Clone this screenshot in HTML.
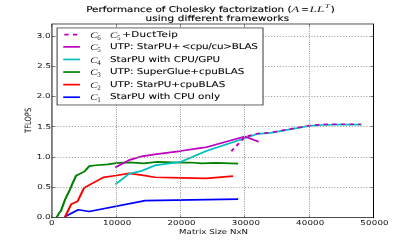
<!DOCTYPE html>
<html><head><meta charset="utf-8"><title>Performance of Cholesky factorization</title>
<style>
html,body{margin:0;padding:0;background:#fff;}
svg{display:block;}
text{font-family:"DejaVu Sans","Liberation Sans",sans-serif;fill:#000;stroke:#000;stroke-width:0.3px;text-rendering:geometricPrecision;}
.m{font-family:"Liberation Serif","DejaVu Serif",serif;font-style:italic;}
.eq{font-family:"DejaVu Sans","Liberation Sans",sans-serif;}
.r{font-family:"Liberation Serif","DejaVu Serif",serif;font-style:normal;}
.m,.r{fill:#222;stroke:none;}
.t{font-size:16.67px;}
.lg text{stroke-width:0.15px;}
.m,.r{fill:#222;stroke:none !important;}
.t text{stroke-width:0.1px;fill:#1a1a1a;stroke:#1a1a1a;}
.l{font-size:20px;}
</style></head><body>
<svg width="415" height="242" viewBox="0 0 800 600" preserveAspectRatio="none">
<rect x="0" y="0" width="800" height="600" fill="#fff"/>

<defs><clipPath id="ax"><rect x="100" y="59.5" width="620" height="480"/></clipPath></defs>
<g fill="none" stroke-width="4.17" stroke-linecap="square" stroke-linejoin="round" clip-path="url(#ax)">
<polyline stroke="#0000ff" points="126.0,536.5 150.8,520.0 171.9,524.5 279.8,497.5 457.1,493.8"/>
<polyline stroke="#ff0000" points="124.8,539.5 137.2,506.5 149.6,499.0 162.0,466.0 174.4,457.0 199.2,439.8 224.0,435.2 248.8,429.9 273.6,434.1 298.4,439.4 348.0,440.9 397.6,442.4 447.2,436.8"/>
<polyline stroke="#008000" points="108.9,539.5 114.6,526.8 117.4,523.0 125.3,495.4 134.7,470.5 139.7,455.2 146.6,435.6 163.2,424.8 171.9,412.0 185.6,409.8 207.9,407.6 224.0,404.5 248.8,402.7 277.3,405.1 303.4,401.5 348.0,403.4 366.6,402.9 388.9,405.1 416.2,404.0 457.1,405.6"/>
<polyline stroke="#00bfbf" points="224.0,455.8 248.8,430.8 273.6,423.6 298.4,410.2 348.0,401.5 397.6,374.5 472.0,342.7 496.8,331.8 521.6,329.5 596.0,312.2 620.8,310.0 645.6,309.2 695.2,309.2"/>
<polyline stroke="#bf00bf" points="224.0,414.2 248.8,397.0 273.6,387.6 298.4,382.8 348.0,374.5 385.2,367.3 397.6,365.0 472.0,338.6 496.8,350.5"/>
<polyline stroke="#bf00bf" stroke-linecap="butt" stroke-dasharray="8.33,8.33" points="446.0,375.2 472.0,339.2 496.8,331.0 521.6,328.8 596.0,311.5 620.8,308.5 645.6,308.1 695.2,308.1"/>
</g>
<g stroke="#959595" fill="none">
<path d="M224.58 540V60" stroke-width="1.928" stroke-dasharray="2.48,3.08"/>
<path d="M347.95 540V60" stroke-width="1.928" stroke-dasharray="2.48,3.08"/>
<path d="M471.33 540V60" stroke-width="1.928" stroke-dasharray="2.48,3.08"/>
<path d="M596.63 540V60" stroke-width="1.928" stroke-dasharray="2.48,3.08"/>
<path d="M100 464.88H720" stroke-width="2.479" stroke-dasharray="1.93,3.63"/>
<path d="M100 390.50H720" stroke-width="2.479" stroke-dasharray="1.93,3.63"/>
<path d="M100 313.64H720" stroke-width="2.479" stroke-dasharray="1.93,3.63"/>
<path d="M100 239.26H720" stroke-width="2.479" stroke-dasharray="1.93,3.63"/>
<path d="M100 164.88H720" stroke-width="2.479" stroke-dasharray="1.93,3.63"/>
<path d="M100 90.50H720" stroke-width="2.479" stroke-dasharray="1.93,3.63"/>
</g>
<g stroke="#777" fill="none">
<path d="M99.28 540v-5.6M99.28 60v5.6" stroke-width="1.928"/>
<path d="M224.58 540v-5.6M224.58 60v5.6" stroke-width="1.928"/>
<path d="M347.95 540v-5.6M347.95 60v5.6" stroke-width="1.928"/>
<path d="M471.33 540v-5.6M471.33 60v5.6" stroke-width="1.928"/>
<path d="M596.63 540v-5.6M596.63 60v5.6" stroke-width="1.928"/>
<path d="M720.00 540v-5.6M720.00 60v5.6" stroke-width="1.928"/>
<path d="M100 539.26h5.6M720 539.26h-5.6" stroke-width="2.479"/>
<path d="M100 464.88h5.6M720 464.88h-5.6" stroke-width="2.479"/>
<path d="M100 390.50h5.6M720 390.50h-5.6" stroke-width="2.479"/>
<path d="M100 313.64h5.6M720 313.64h-5.6" stroke-width="2.479"/>
<path d="M100 239.26h5.6M720 239.26h-5.6" stroke-width="2.479"/>
<path d="M100 164.88h5.6M720 164.88h-5.6" stroke-width="2.479"/>
<path d="M100 90.50h5.6M720 90.50h-5.6" stroke-width="2.479"/>
</g>
<g stroke="#000" fill="none">
<path d="M100 59.5H720" stroke-width="1.7" stroke="#222"/>
<path d="M100 539.26H720" stroke-width="2.11" stroke="#4a4a4a"/>
<path d="M720.00 59V541" stroke-width="1.93"/>
<path d="M100.14 59V541" stroke-width="2.12" stroke="#222"/>
</g>
<g class="t">
<text x="100.0" y="557.9" text-anchor="middle">0</text>
<text x="198.7" y="557.9" textLength="54.4" lengthAdjust="spacing">10000</text>
<text x="322.7" y="557.9" textLength="54.4" lengthAdjust="spacing">20000</text>
<text x="446.7" y="557.9" textLength="54.4" lengthAdjust="spacing">30000</text>
<text x="570.7" y="557.9" textLength="54.4" lengthAdjust="spacing">40000</text>
<text x="694.7" y="557.9" textLength="54.4" lengthAdjust="spacing">50000</text>
<text x="97.5" y="544.0" text-anchor="end">0.0</text>
<text x="98.5" y="469.0" text-anchor="end">0.5</text>
<text x="97.5" y="394.0" text-anchor="end">1.0</text>
<text x="98.5" y="319.0" text-anchor="end">1.5</text>
<text x="97.5" y="244.0" text-anchor="end">2.0</text>
<text x="98.5" y="169.0" text-anchor="end">2.5</text>
<text x="97.5" y="94.0" text-anchor="end">3.0</text>
<text x="345.2" y="580.2" textLength="133" lengthAdjust="spacing">Matrix Size NxN</text>
<text transform="translate(59.4,298.5) rotate(-90)" text-anchor="middle">TFLOPS</text>
</g>
<g class="l">
<text x="166.2" y="29.8" textLength="395.8" lengthAdjust="spacing">Performance of Cholesky factorization (</text>
<text class="m" x="561.7" y="29.8" font-size="21.0" textLength="15.5" lengthAdjust="spacingAndGlyphs">A</text>
<text class="eq" x="580.8" y="29.8" font-size="20.0" textLength="14.5" lengthAdjust="spacingAndGlyphs">=</text>
<text class="m" x="596.7" y="29.8" font-size="21.0" textLength="14.3" lengthAdjust="spacingAndGlyphs">L</text>
<text class="m" x="610.7" y="29.8" font-size="21.0" textLength="14.8" lengthAdjust="spacingAndGlyphs">L</text>
<text class="m" x="626.2" y="20.2" font-size="14.7" textLength="9.7" lengthAdjust="spacingAndGlyphs">T</text>
<text x="637.7" y="29.8">)</text>
<text x="280.3" y="52.0" textLength="277" lengthAdjust="spacing">using different frameworks</text>
</g>
<rect x="110.0" y="69.3" width="397.0" height="191.0" fill="#fff" stroke="#000" stroke-width="1.5"/>
<g class="l lg">
<path d="M124 85.9H152" stroke="#bf00bf" stroke-width="4.17" stroke-dasharray="8.33,8.33" fill="none"/>
<text class="m" x="174.0" y="94.2" font-size="21.0" textLength="13.8" lengthAdjust="spacingAndGlyphs">C</text><text class="r" x="187.6" y="99.2" font-size="17.5" textLength="6.8" lengthAdjust="spacingAndGlyphs">6</text>
<text class="m" x="212.0" y="94.2" font-size="21.0" textLength="13.8" lengthAdjust="spacingAndGlyphs">C</text><text class="r" x="225.6" y="99.2" font-size="17.5" textLength="6.8" lengthAdjust="spacingAndGlyphs">5</text>
<text x="235.5" y="91.7" textLength="107.5" lengthAdjust="spacing">+DuctTeip</text>
<path d="M124 116.2H152" stroke="#bf00bf" stroke-width="4.17" stroke-linecap="square" fill="none"/>
<text class="m" x="174.0" y="124.0" font-size="21.0" textLength="13.8" lengthAdjust="spacingAndGlyphs">C</text><text class="r" x="187.6" y="128.9" font-size="17.5" textLength="6.8" lengthAdjust="spacingAndGlyphs">5</text>
<text x="212" y="121.5" textLength="136" lengthAdjust="spacing">UTP: StarPU+</text>
<text x="350.6" y="121.5" textLength="146.4" lengthAdjust="spacing">&lt;cpu/cu&gt;BLAS</text>
<path d="M124 147.4H152" stroke="#00bfbf" stroke-width="4.17" stroke-linecap="square" fill="none"/>
<text class="m" x="174.0" y="156.2" font-size="21.0" textLength="13.8" lengthAdjust="spacingAndGlyphs">C</text><text class="r" x="187.6" y="161.2" font-size="17.5" textLength="6.8" lengthAdjust="spacingAndGlyphs">4</text>
<text x="212" y="153.7" textLength="212.5" lengthAdjust="spacing">StarPU with CPU/GPU</text>
<path d="M124 178.6H152" stroke="#008000" stroke-width="4.17" stroke-linecap="square" fill="none"/>
<text class="m" x="174.0" y="185.9" font-size="21.0" textLength="13.8" lengthAdjust="spacingAndGlyphs">C</text><text class="r" x="187.6" y="190.9" font-size="17.5" textLength="6.8" lengthAdjust="spacingAndGlyphs">3</text>
<text x="212" y="183.5" textLength="259.0" lengthAdjust="spacing">UTP: SuperGlue+cpuBLAS</text>
<path d="M124 209.8H152" stroke="#ff0000" stroke-width="4.17" stroke-linecap="square" fill="none"/>
<text class="m" x="174.0" y="218.2" font-size="21.0" textLength="13.8" lengthAdjust="spacingAndGlyphs">C</text><text class="r" x="187.6" y="223.1" font-size="17.5" textLength="6.8" lengthAdjust="spacingAndGlyphs">2</text>
<text x="212" y="215.7" textLength="222.2" lengthAdjust="spacing">UTP: StarPU+cpuBLAS</text>
<path d="M124 241.0H152" stroke="#0000ff" stroke-width="4.17" stroke-linecap="square" fill="none"/>
<text class="m" x="174.0" y="247.9" font-size="21.0" textLength="13.8" lengthAdjust="spacingAndGlyphs">C</text><text class="r" x="187.6" y="252.9" font-size="17.5" textLength="6.8" lengthAdjust="spacingAndGlyphs">1</text>
<text x="212" y="245.4" textLength="212.2" lengthAdjust="spacing">StarPU with CPU only</text>
</g>
</svg></body></html>
